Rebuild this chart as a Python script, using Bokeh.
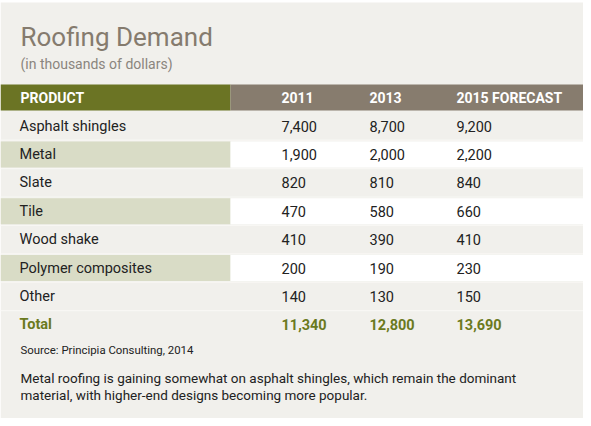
from bokeh.plotting import figure
from bokeh.models import Range1d, ColumnDataSource
from bokeh.embed import file_html
from bokeh.resources import INLINE
from bokeh.core.properties import value

# ---- data ----
title = "Roofing Demand"
subtitle = "(in thousands of dollars)"
columns = ["PRODUCT", "2011", "2013", "2015 FORECAST"]
products = ["Asphalt shingles", "Metal", "Slate", "Tile", "Wood shake",
            "Polymer composites", "Other"]
v2011 = [7400, 1900, 820, 470, 410, 200, 140]
v2013 = [8700, 2000, 810, 580, 390, 190, 130]
v2015 = [9200, 2200, 840, 660, 410, 230, 150]
total_label = "Total"
source_note = "Source: Principia Consulting, 2014"
note_lines = [
    "Metal roofing is gaining somewhat on asphalt shingles, which remain the dominant",
    "material, with higher-end designs becoming more popular.",
]

# ---- styles ----
FONT = value("Roboto")
BG = "#f1f0ec"
HDR_GREEN = "#6b7424"
HDR_GRAY = "#877c6e"
BAND_GREEN = "#d9dcc6"
TITLE_COL = "#857b6e"
SUB_COL = "#8a857e"
TXT = "#222222"
TOTAL_COL = "#6b7a1e"

W, H = 583, 418
p = figure(width=W, height=H, x_range=Range1d(0, W),
           y_range=Range1d(H, 0), output_backend="svg",
           toolbar_location=None, min_border=0,
           x_axis_location=None, y_axis_location=None)
p.grid.visible = False
p.outline_line_color = None
p.background_fill_color = "white"
p.border_fill_color = "white"

# layout
PANEL_L, PANEL_R, PANEL_T, PANEL_B = 0, 588, 2, 421
SPLIT = 230
HDR_T, HDR_B = 84, 110
ROW0, ROW_H, BAND_HALF = 125.5, 28.4, 13
col_x = [19, 281, 369, 456]

p.quad(left=PANEL_L, right=PANEL_R, top=PANEL_T, bottom=PANEL_B,
       fill_color=BG, line_color=None)

# header bar
p.quad(left=[PANEL_L, SPLIT], right=[SPLIT, PANEL_R - 1], top=HDR_T, bottom=HDR_B,
       fill_color=[HDR_GREEN, HDR_GRAY], line_color=None)

n = len(products)
row_y = [ROW0 + ROW_H * i for i in range(n + 1)]

# faint separators between rows
sep_y = [ROW0 + ROW_H * (i - 0.5) for i in range(1, n + 1)]
p.segment(x0=PANEL_L, x1=PANEL_R - 1, y0=sep_y, y1=sep_y,
          line_color="#f8f7f4", line_width=1.2)

# alternating bands
band_rows = [i for i in range(n) if i % 2 == 1]
bl, br, bt, bb, bc = [], [], [], [], []
for i in band_rows:
    yc = row_y[i]
    bl += [PANEL_L, SPLIT]
    br += [SPLIT, PANEL_R - 1]
    bt += [yc - BAND_HALF, yc - BAND_HALF]
    bb += [yc + BAND_HALF, yc + BAND_HALF]
    bc += [BAND_GREEN, "white"]
p.quad(left=bl, right=br, top=bt, bottom=bb, fill_color=bc, line_color=None)

# title
p.text(x=[col_x[0] + 1], y=[36], text=[title], text_font=FONT,
       text_font_size="26px", text_color=TITLE_COL, text_baseline="middle")
p.text(x=[col_x[0] + 1], y=[63], text=[subtitle], text_font=FONT,
       text_font_size="14px", text_color=SUB_COL, text_baseline="middle")

# header text
hy = (HDR_T + HDR_B) / 2
p.text(x=[col_x[0] + 1] + col_x[1:], y=[hy] * 4, text=columns, text_font=FONT,
       text_font_size="14px", text_font_style="bold", text_color="white",
       text_baseline="middle")

# body
body = ColumnDataSource(dict(
    y=row_y[:n],
    prod=products,
    a=[f"{v:,}" for v in v2011],
    b=[f"{v:,}" for v in v2013],
    c=[f"{v:,}" for v in v2015],
))
for key, cx in zip(["prod", "a", "b", "c"], col_x):
    p.text(x=cx, y="y", text=key, source=body, text_font=FONT,
           text_font_size="14.5px", text_color=TXT, text_baseline="middle")

# totals
totals = [sum(v2011), sum(v2013), sum(v2015)]
ty = row_y[n]
p.text(x=col_x, y=[ty] * 4, text=[total_label] + [f"{t:,}" for t in totals],
       text_font=FONT, text_font_size="14.5px", text_font_style="bold",
       text_color=TOTAL_COL, text_baseline="middle")

# source + note
p.text(x=[col_x[0] + 1], y=[349.5], text=[source_note], text_font=FONT,
       text_font_size="11.4px", text_color=TXT, text_baseline="middle")
p.text(x=[col_x[0] + 1] * 2, y=[377, 394.5], text=note_lines, text_font=FONT,
       text_font_size="13.5px", text_color=TXT, text_baseline="middle")

open("out.html", "w").write(file_html(p, INLINE))
